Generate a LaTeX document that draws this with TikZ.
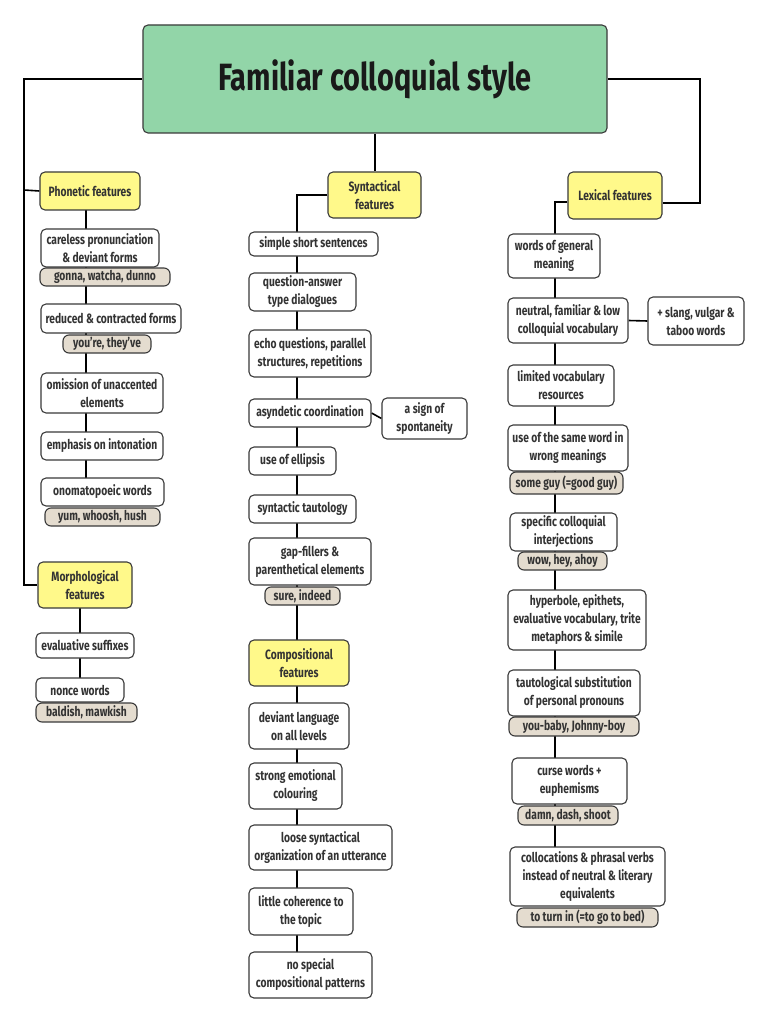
\documentclass[tikz,border=0pt]{standalone}
\usepackage{fontspec}
\setmainfont{Fira Sans}[FakeStretch=0.76]
\usetikzlibrary{backgrounds}
\definecolor{tgreen}{HTML}{92D5A8}
\definecolor{tyel}{HTML}{FFF98A}
\definecolor{tbeige}{HTML}{E4DCCF}
\definecolor{edge}{HTML}{3A3A3A}
\tikzset{
 base/.style={draw=edge, line width=1.1pt, rounded corners=5pt, inner sep=1pt, align=center, font=\fontsize{13.5}{18}\selectfont\bfseries, text=black!80},
 wbox/.style={base, fill=white},
 ybox/.style={base, fill=tyel},
 tag/.style={base, fill=tbeige, rounded corners=6pt},
 conn/.style={draw=black, line width=1.6pt},
}
\newcommand\bx[7]{\node[#6, minimum width={(#4-#2)*1pt}, minimum height={(#5-#3)*1pt}] (#1) at ({(#2+#4)/2},{(#3+#5)/2}) {#7};}
\begin{document}
\begin{tikzpicture}[x=1pt,y=-1pt]
\useasboundingbox (0,0) rectangle (768,1024);
\node[base, fill=tgreen, minimum width=464pt, minimum height=108pt, font=\fontsize{38}{40}\selectfont\bfseries, text=black!90] (title) at (375,79) {Familiar colloquial style};
% phonetic
\bx{phon}{40}{172}{140}{210}{ybox}{Phonetic features}
\bx{care}{41}{229}{159}{267}{wbox}{careless pronunciation\\\& deviant forms}
\bx{t1}{40}{268}{170}{286}{tag}{gonna, watcha, dunno}
\bx{red}{41}{304}{181}{333}{wbox}{reduced \& contracted forms}
\bx{t2}{63}{335}{151}{353}{tag}{you're, they've}
\bx{omi}{41}{373}{163}{413}{wbox}{omission of unaccented\\elements}
\bx{emp}{41}{432}{163}{460}{wbox}{emphasis on intonation}
\bx{ono}{41}{478}{164}{506}{wbox}{onomatopoeic words}
\bx{t3}{45}{508}{160}{526}{tag}{yum, whoosh, hush}
\bx{morph}{38}{562}{132}{608}{ybox}{Morphological\\features}
\bx{evs}{36}{633}{134}{658}{wbox}{evaluative suffixes}
\bx{nonce}{36}{678}{124}{702}{wbox}{nonce words}
\bx{t4}{36}{703}{137}{722}{tag}{baldish, mawkish}
% syntactical
\bx{syn}{328}{172}{421}{218}{ybox}{Syntactical\\features}
\bx{sim}{249}{232}{378}{256}{wbox}{simple short sentences}
\bx{qa}{249}{273}{356}{311}{wbox}{question-answer\\type dialogues}
\bx{echo}{249}{330}{371}{377}{wbox}{echo questions, parallel\\structures, repetitions}
\bx{asy}{249}{399}{371}{427}{wbox}{asyndetic coordination}
\bx{sign}{382}{398}{467}{439}{wbox}{a sign of\\spontaneity}
\bx{ell}{249}{447}{336}{475}{wbox}{use of ellipsis}
\bx{taut}{249}{495}{356}{523}{wbox}{syntactic tautology}
\bx{gap}{249}{538}{371}{585}{wbox}{gap-fillers \&\\parenthetical elements}
\bx{t5}{265}{587}{340}{605}{tag}{sure, indeed}
\bx{comp}{249}{640}{349}{686}{ybox}{Compositional\\features}
\bx{dev}{249}{703}{349}{749}{wbox}{deviant language\\on all levels}
\bx{strong}{249}{763}{342}{809}{wbox}{strong emotional\\colouring}
\bx{loose}{249}{825}{392}{870}{wbox}{loose syntactical\\organization of an utterance}
\bx{little}{249}{888}{353}{935}{wbox}{little coherence to\\the topic}
\bx{nosp}{249}{952}{372}{998}{wbox}{no special\\compositional patterns}
% lexical
\bx{lex}{568}{172}{662}{219}{ybox}{Lexical features}
\bx{gen}{508}{234}{600}{278}{wbox}{words of general\\meaning}
\bx{neu}{508}{298}{628}{343}{wbox}{neutral, familiar \& low\\colloquial vocabulary}
\bx{slang}{648}{297}{744}{345}{wbox}{+ slang, vulgar \&\\taboo words}
\bx{lim}{508}{365}{614}{406}{wbox}{limited vocabulary\\resources}
\bx{same}{508}{425}{628}{471}{wbox}{use of the same word in\\wrong meanings}
\bx{t6}{510}{472}{623}{494}{tag}{some guy (=good guy)}
\bx{spec}{510}{513}{617}{551}{wbox}{specific colloquial\\interjections}
\bx{t7}{518}{552}{607}{570}{tag}{wow, hey, ahoy}
\bx{hyp}{508}{590}{646}{650}{wbox}{hyperbole, epithets,\\evaluative vocabulary, trite\\metaphors \& simile}
\bx{tsub}{508}{670}{640}{716}{wbox}{tautological substitution\\of personal pronouns}
\bx{t8}{509}{717}{639}{736}{tag}{you-baby, Johnny-boy}
\bx{curse}{512}{758}{627}{804}{wbox}{curse words +\\euphemisms}
\bx{t9}{518}{806}{618}{825}{tag}{damn, dash, shoot}
\bx{coll}{510}{847}{665}{906}{wbox}{collocations \& phrasal verbs\\instead of neutral \& literary\\equivalents}
\bx{t10}{517}{908}{658}{927}{tag}{to turn in (=to go to bed)}
\begin{scope}[on background layer]
\fill[white] (0,0) rectangle (768,1024);
\draw[conn] (title.west) -| (24,585) -- (morph.west |- 0,585);
\draw[conn] (24,190) -- (phon.west);
\draw[conn] (title.east) -| (700,203) -- (lex.east |- 0,203);
\draw[conn] (title.south) -- (syn.north -| title.south);
\draw[conn] (86,210) -- (86,478);
\draw[conn] (80,608) -- (80,678);
\draw[conn] (syn.west |- 0,195) -| (297,952);
\draw[conn] (asy.east) -- (sign.west);
\draw[conn] (lex.west |- 0,202) -| (555,847);
\draw[conn] (neu.east) -- (slang.west);
\end{scope}
\end{tikzpicture}
\end{document}
